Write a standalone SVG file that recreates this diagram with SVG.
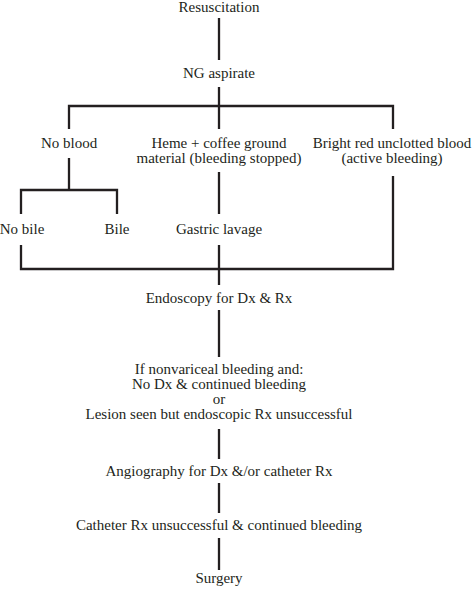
<svg xmlns="http://www.w3.org/2000/svg" width="474" height="589" viewBox="0 0 474 589">
<style>
text{font-family:"Liberation Serif","Times New Roman",serif;font-size:15px;fill:#231f20;text-anchor:middle}
.c line,.c path{stroke:#231f20;stroke-width:2.3;fill:none;stroke-linecap:butt}
</style>
<rect width="474" height="589" fill="#fff"/>
<g class="c" id="connectors">
<line x1="219" y1="18" x2="219" y2="60"/>
<line x1="219" y1="87" x2="219" y2="106"/>
<path d="M69,129 V106 H393 V129"/>
<line x1="219" y1="106" x2="219" y2="129"/>
<line x1="69" y1="158" x2="69" y2="190"/>
<path d="M21,214 V190 H117 V214"/>
<line x1="219" y1="172" x2="219" y2="214"/>
<path d="M393,176 V269 H21 V245"/>
<line x1="219" y1="245" x2="219" y2="285"/>
<line x1="219" y1="310" x2="219" y2="357"/>
<line x1="219" y1="429" x2="219" y2="459"/>
<line x1="219" y1="483" x2="219" y2="513"/>
<line x1="219" y1="538" x2="219" y2="570"/>
</g>
<g id="resuscitation"><text x="219" y="12">Resuscitation</text></g>
<g id="ng-aspirate"><text x="219" y="78">NG aspirate</text></g>
<g id="no-blood"><text x="69" y="148">No blood</text></g>
<g id="heme"><text x="219" y="148">Heme + coffee ground</text><text x="219" y="163">material (bleeding stopped)</text></g>
<g id="bright-red"><text x="392" y="148">Bright red unclotted blood</text><text x="392" y="163">(active bleeding)</text></g>
<g id="no-bile"><text x="22" y="234">No bile</text></g>
<g id="bile"><text x="117" y="234">Bile</text></g>
<g id="gastric-lavage"><text x="219" y="234">Gastric lavage</text></g>
<g id="endoscopy"><text x="219" y="303">Endoscopy for Dx &amp; Rx</text></g>
<g id="nonvariceal"><text x="219" y="374">If nonvariceal bleeding and:</text><text x="219" y="389">No Dx &amp; continued bleeding</text><text x="219" y="404">or</text><text x="219" y="419">Lesion seen but endoscopic Rx unsuccessful</text></g>
<g id="angiography"><text x="219" y="476">Angiography for Dx &amp;/or catheter Rx</text></g>
<g id="catheter"><text x="219" y="530">Catheter Rx unsuccessful &amp; continued bleeding</text></g>
<g id="surgery"><text x="219" y="583">Surgery</text></g>
</svg>
